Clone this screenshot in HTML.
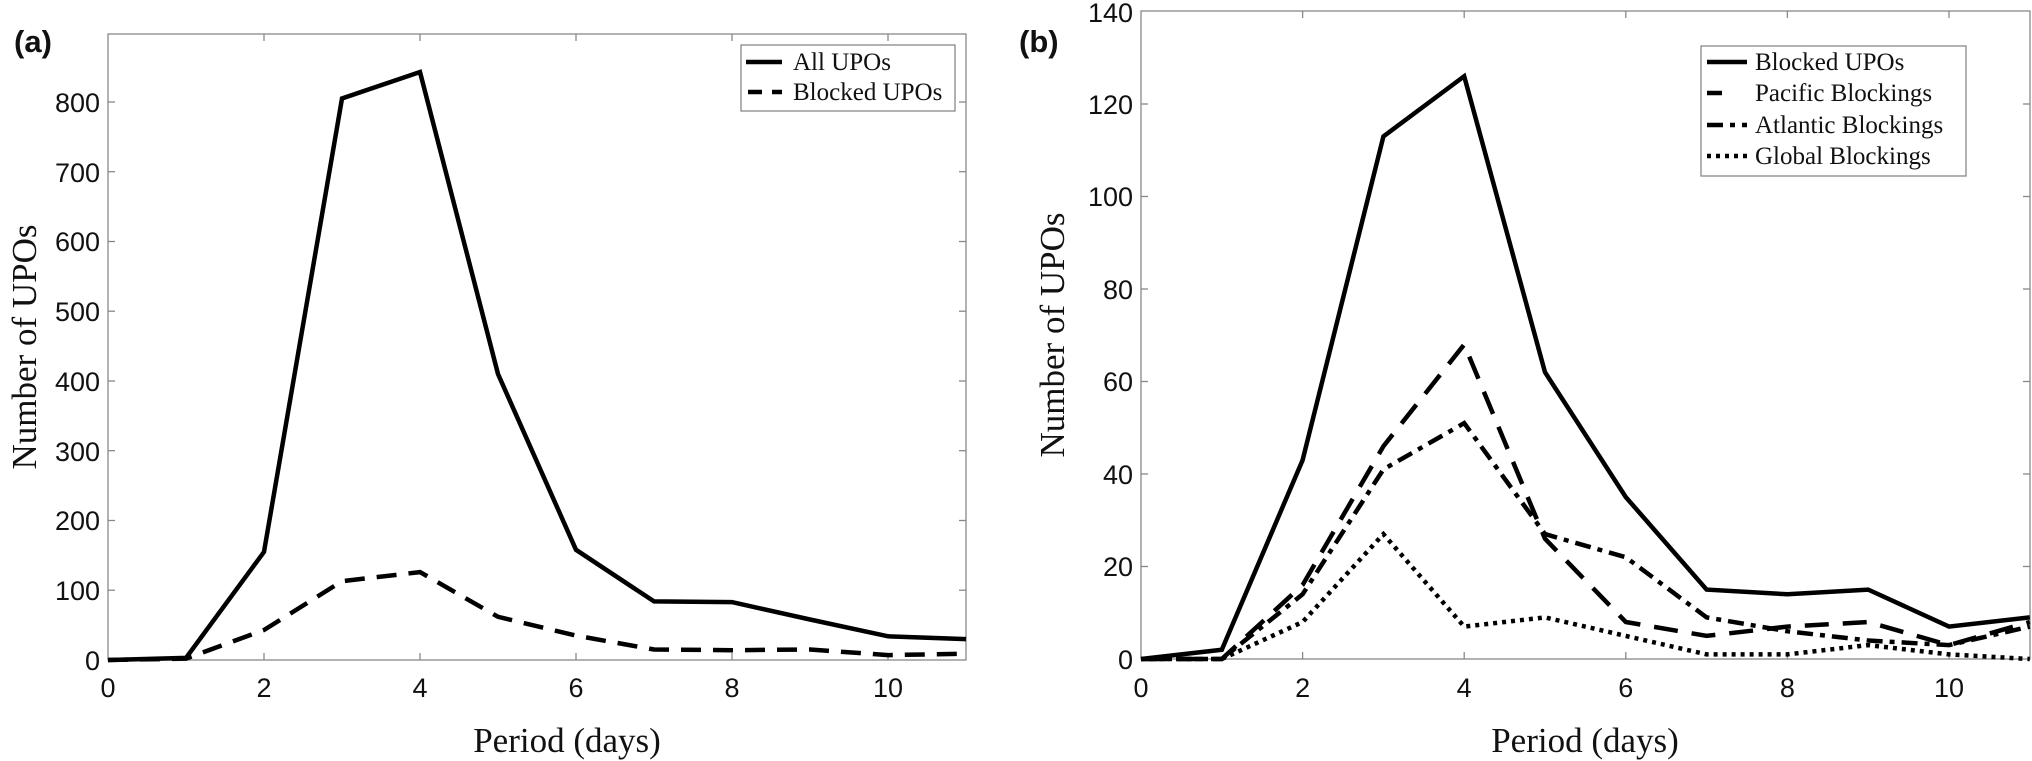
<!DOCTYPE html>
<html><head><meta charset="utf-8"><style>
html,body{margin:0;padding:0;background:#fff;}
svg{display:block;}
.tk{font-family:"Liberation Sans",Arial,sans-serif;font-size:27px;fill:#111;}
.lb{font-family:"Liberation Serif",serif;font-size:35px;fill:#111;}
.lg{font-family:"Liberation Serif",serif;font-size:25px;fill:#111;}
.pl{font-family:"Liberation Sans",Arial,sans-serif;font-size:31px;font-weight:bold;fill:#111;}
</style></head><body>
<svg width="2032" height="761" viewBox="0 0 2032 761" xmlns="http://www.w3.org/2000/svg">
<!-- Panel a -->
<text class="pl" x="14" y="52">(a)</text>
<rect x="108" y="34" width="858" height="626" fill="none" stroke="#888" stroke-width="1.3"/>
<g stroke="#888" stroke-width="1.3">
<line x1="264" y1="660" x2="264" y2="653"/><line x1="420" y1="660" x2="420" y2="653"/><line x1="576" y1="660" x2="576" y2="653"/><line x1="732" y1="660" x2="732" y2="653"/><line x1="888" y1="660" x2="888" y2="653"/>
<line x1="264" y1="34" x2="264" y2="41"/><line x1="420" y1="34" x2="420" y2="41"/><line x1="576" y1="34" x2="576" y2="41"/><line x1="732" y1="34" x2="732" y2="41"/><line x1="888" y1="34" x2="888" y2="41"/>
<line x1="108" y1="590.2" x2="115" y2="590.2"/><line x1="108" y1="520.5" x2="115" y2="520.5"/><line x1="108" y1="450.7" x2="115" y2="450.7"/><line x1="108" y1="381" x2="115" y2="381"/><line x1="108" y1="311.2" x2="115" y2="311.2"/><line x1="108" y1="241.5" x2="115" y2="241.5"/><line x1="108" y1="171.7" x2="115" y2="171.7"/><line x1="108" y1="102" x2="115" y2="102"/>
<line x1="966" y1="590.2" x2="959" y2="590.2"/><line x1="966" y1="520.5" x2="959" y2="520.5"/><line x1="966" y1="450.7" x2="959" y2="450.7"/><line x1="966" y1="381" x2="959" y2="381"/><line x1="966" y1="311.2" x2="959" y2="311.2"/><line x1="966" y1="241.5" x2="959" y2="241.5"/><line x1="966" y1="171.7" x2="959" y2="171.7"/><line x1="966" y1="102" x2="959" y2="102"/>
</g>
<g class="tk" text-anchor="end">
<text x="100" y="670">0</text><text x="100" y="600">100</text><text x="100" y="530">200</text><text x="100" y="461">300</text><text x="100" y="391">400</text><text x="100" y="321">500</text><text x="100" y="251">600</text><text x="100" y="182">700</text><text x="100" y="112">800</text>
</g>
<g class="tk" text-anchor="middle">
<text x="108" y="697">0</text><text x="264" y="697">2</text><text x="420" y="697">4</text><text x="576" y="697">6</text><text x="732" y="697">8</text><text x="888" y="697">10</text>
</g>
<text class="lb" x="567" y="752" text-anchor="middle">Period (days)</text>
<text class="lb" transform="translate(36,347) rotate(-90)" text-anchor="middle">Number of UPOs</text>
<polyline fill="none" stroke="#000" stroke-width="4.5" stroke-linejoin="miter" points="108,660 186,657.9 264,551.9 342,98.5 420,72 498,374 576,549.8 654,601.4 732,602.1 810,619.5 888,636.3 966,639.1"/>
<polyline fill="none" stroke="#000" stroke-width="4.5" stroke-dasharray="20,12" points="108,660 186,658.6 264,630 342,581.2 420,572.1 498,616.8 576,635.6 654,649.5 732,650.2 810,649.5 888,655.1 966,653.7"/>
<rect x="741" y="45" width="214" height="66" fill="#fff" stroke="#888" stroke-width="1.3"/>
<line x1="746" y1="62" x2="782" y2="62" stroke="#000" stroke-width="4.5"/>
<line x1="748" y1="92" x2="782" y2="92" stroke="#000" stroke-width="4.5" stroke-dasharray="14,10"/>
<text class="lg" x="793" y="70">All UPOs</text>
<text class="lg" x="793" y="100">Blocked UPOs</text>

<!-- Panel b -->
<text class="pl" x="1019" y="52">(b)</text>
<rect x="1141" y="11" width="889" height="648" fill="none" stroke="#888" stroke-width="1.3"/>
<g stroke="#888" stroke-width="1.3">
<line x1="1302.6" y1="659" x2="1302.6" y2="652"/><line x1="1464.2" y1="659" x2="1464.2" y2="652"/><line x1="1625.8" y1="659" x2="1625.8" y2="652"/><line x1="1787.4" y1="659" x2="1787.4" y2="652"/><line x1="1949" y1="659" x2="1949" y2="652"/>
<line x1="1302.6" y1="11" x2="1302.6" y2="18"/><line x1="1464.2" y1="11" x2="1464.2" y2="18"/><line x1="1625.8" y1="11" x2="1625.8" y2="18"/><line x1="1787.4" y1="11" x2="1787.4" y2="18"/><line x1="1949" y1="11" x2="1949" y2="18"/>
<line x1="1141" y1="566.5" x2="1148" y2="566.5"/><line x1="1141" y1="474" x2="1148" y2="474"/><line x1="1141" y1="381.5" x2="1148" y2="381.5"/><line x1="1141" y1="289" x2="1148" y2="289"/><line x1="1141" y1="196.5" x2="1148" y2="196.5"/><line x1="1141" y1="104" x2="1148" y2="104"/>
<line x1="2030" y1="566.5" x2="2023" y2="566.5"/><line x1="2030" y1="474" x2="2023" y2="474"/><line x1="2030" y1="381.5" x2="2023" y2="381.5"/><line x1="2030" y1="289" x2="2023" y2="289"/><line x1="2030" y1="196.5" x2="2023" y2="196.5"/><line x1="2030" y1="104" x2="2023" y2="104"/>
</g>
<g class="tk" text-anchor="end">
<text x="1133" y="669">0</text><text x="1133" y="576">20</text><text x="1133" y="484">40</text><text x="1133" y="391">60</text><text x="1133" y="299">80</text><text x="1133" y="206">100</text><text x="1133" y="114">120</text><text x="1133" y="22">140</text>
</g>
<g class="tk" text-anchor="middle">
<text x="1141" y="697">0</text><text x="1302.6" y="697">2</text><text x="1464.2" y="697">4</text><text x="1625.8" y="697">6</text><text x="1787.4" y="697">8</text><text x="1949" y="697">10</text>
</g>
<text class="lb" x="1585" y="752" text-anchor="middle">Period (days)</text>
<text class="lb" transform="translate(1064,335) rotate(-90)" text-anchor="middle">Number of UPOs</text>
<polyline fill="none" stroke="#000" stroke-width="4.5" points="1141,659 1221.8,649.75 1302.6,460.1 1383.4,136.4 1464.2,76.25 1545,372.25 1625.8,497.1 1706.6,589.6 1787.4,594.25 1868.2,589.6 1949,626.6 2029.8,617.4"/>
<polyline fill="none" stroke="#000" stroke-width="4.5" stroke-dasharray="24,14" points="1141,659 1221.8,659 1302.6,585 1383.4,446.25 1464.2,344.5 1545,538.75 1625.8,622 1706.6,635.9 1787.4,626.6 1868.2,622 1949,645.1 2029.8,622"/>
<polyline fill="none" stroke="#000" stroke-width="4.5" stroke-dasharray="16,7,5,7" points="1141,659 1221.8,659 1302.6,594.25 1383.4,469.4 1464.2,423.1 1545,534.1 1625.8,557.25 1706.6,617.4 1787.4,631.25 1868.2,640.5 1949,645.1 2029.8,626.6"/>
<polyline fill="none" stroke="#000" stroke-width="4.5" stroke-dasharray="4,5" points="1141,659 1221.8,659 1302.6,622 1383.4,534.1 1464.2,626.6 1545,617.4 1625.8,635.9 1706.6,654.4 1787.4,654.4 1868.2,645.1 1949,654.4 2029.8,659"/>
<rect x="1701" y="46" width="265" height="130" fill="#fff" stroke="#888" stroke-width="1.3"/>
<line x1="1707" y1="62" x2="1747" y2="62" stroke="#000" stroke-width="4.5"/>
<line x1="1707" y1="93" x2="1747" y2="93" stroke="#000" stroke-width="4.5" stroke-dasharray="15,40"/>
<line x1="1707" y1="125" x2="1747" y2="125" stroke="#000" stroke-width="4.5" stroke-dasharray="16,7,5,7"/>
<line x1="1707" y1="156" x2="1747" y2="156" stroke="#000" stroke-width="4.5" stroke-dasharray="4,5"/>
<text class="lg" x="1755" y="70">Blocked UPOs</text>
<text class="lg" x="1755" y="101">Pacific Blockings</text>
<text class="lg" x="1755" y="133">Atlantic Blockings</text>
<text class="lg" x="1755" y="164">Global Blockings</text>
</svg>
</body></html>
